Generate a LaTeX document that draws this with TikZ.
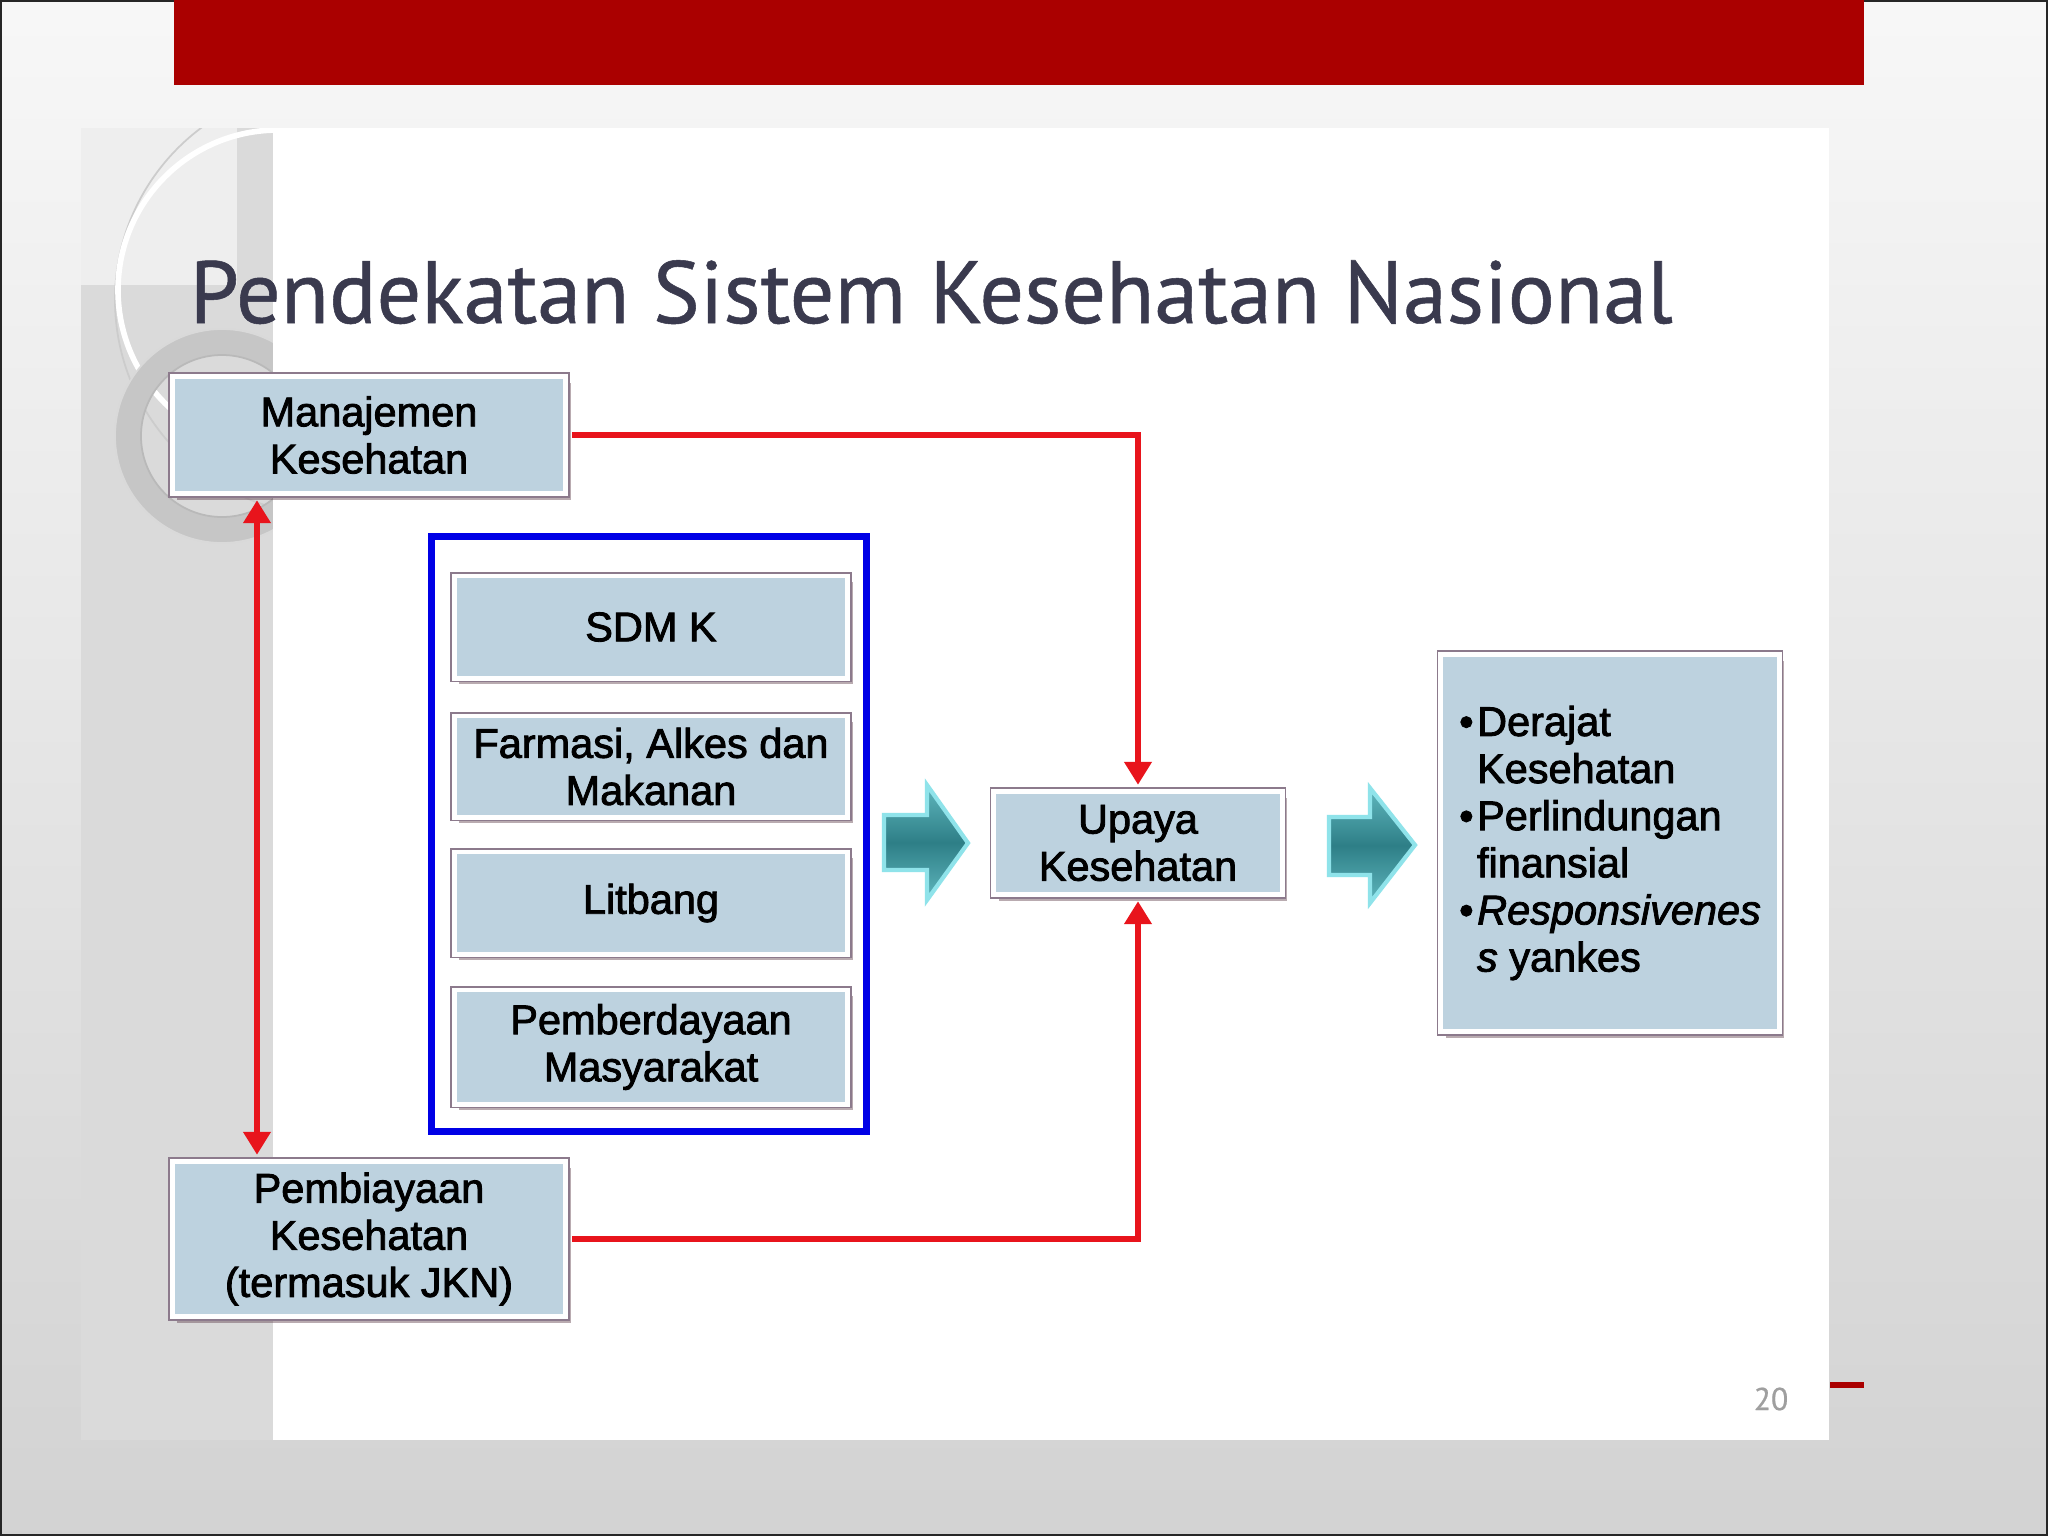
\documentclass[tikz,border=0pt]{standalone}
\usepackage{fontspec}
\usepackage[dvipsnames]{xcolor}
\usepackage{tikz}
\usetikzlibrary{positioning, arrows.meta, shadows}
\newfontfamily\boxfont{Liberation Sans}[FakeBold=2]
\newfontfamily\titlefont{PT Sans}[FakeBold=0.6]
\definecolor{slidered}{HTML}{AA0000}
\definecolor{boxblue}{HTML}{BDD2DF}
\definecolor{boxedge}{HTML}{8C7A8C}
\definecolor{linkred}{HTML}{E8141C}
\definecolor{frameblue}{HTML}{0000E6}
\definecolor{tealdark}{HTML}{2E7F87}
\definecolor{teallight}{HTML}{5FB6BD}
\definecolor{tealedge}{HTML}{8FE3EA}
\definecolor{titlegray}{HTML}{3A3A4E}
\definecolor{stripgray}{HTML}{DADADA}

\begin{document}
\begin{tikzpicture}[x=0.01cm, y=0.01cm,
      box/.style={rectangle, fill=boxblue, draw=white, line width=1.4pt,
        drop shadow={shadow xshift=1.4pt, shadow yshift=-1.8pt, opacity=0.45, fill=black!70!magenta},
        preaction={draw=boxedge, line width=2.4pt},
        font=\boxfont\fontsize{11.8}{13.4}\selectfont, align=center, inner sep=0pt,
        minimum width=3.93cm},
      sysframe/.style={rectangle, draw=frameblue, line width=2pt, inner sep=0pt},
      blockarr/.style={draw=tealedge, line width=1.2pt, top color=teallight,
        bottom color=teallight, middle color=tealdark},
      link/.style={draw=linkred, line width=1.85pt},
      tip/.style={-{Triangle[width=7.5pt, length=6.5pt]}}
    ]
    \useasboundingbox (0,0) rectangle (2048,-1536);
    \fill[top color=gray!6, bottom color=gray!35] (0,0) rectangle (2048,-1536);
    \draw[black!85, line width=0.8pt] (1,-1) rectangle (2047,-1535);
    \fill[slidered] (174,0) rectangle (1864,-85);
    \fill[stripgray] (81,-128) rectangle (273,-1440);
    \fill[gray!13] (81,-128) rectangle (237,-285);
    \begin{scope}
      \clip (81,-128) rectangle (273,-1440);
      \draw[gray!40, line width=0.5pt] (330,-300) circle (215);
      \draw[white, line width=1.6pt] (278,-290) circle (160);
      \draw[gray!45, line width=7.4pt] (222,-436) circle (94);
      \draw[gray!55, line width=0.5pt] (222,-436) circle (81);
      \draw[gray!30, line width=0.5pt] (222,-436) circle (107);
    \end{scope}
    \fill[white] (273,-128) rectangle (1829,-1440);
    \fill[slidered] (1830,-1382) rectangle (1864,-1388);
    \node[text=gray!75, font=\titlefont\fontsize{9}{10}\selectfont] (pgnum) at (1771,-1399) {20};
    \node[anchor=base west, inner sep=0pt, text=titlegray,
      font=\titlefont\fontsize{25.1}{30}\selectfont] (title) at (189,-323)
      {Pendekatan Sistem Kesehatan Nasional};
    \node[sysframe, minimum width=4.34cm, minimum height=5.95cm] (sys) at (649,-834) {};
    \node[box, minimum height=1.17cm] (mk) at (369,-435) {Manajemen\\Kesehatan};
    \node[box, minimum height=1.55cm] (pb) at (369,-1239) {Pembiayaan\\Kesehatan\\(termasuk JKN)};
    \node[box, minimum height=1.02cm] (sdm) at (651,-627) {SDM K};
    \node[box, minimum height=1.01cm] (farm) [below=0.33cm of sdm] {Farmasi, Alkes dan\\Makanan};
    \node[box, minimum height=1.02cm] (lit) [below=0.30cm of farm] {Litbang};
    \node[box, minimum height=1.14cm] (pm) [below=0.31cm of lit] {Pemberdayaan\\Masyarakat};
    \node[box, minimum width=2.88cm, minimum height=1.03cm] (uk) at (1138,-843) {Upaya\\Kesehatan};
    \node[box, minimum width=3.38cm, minimum height=3.77cm, align=left] (out) at (1610,-843)
      {\textbullet\hspace{1pt}Derajat\\\hspace*{5.1pt}Kesehatan\\\textbullet\hspace{1pt}Perlindungan\\\hspace*{5.1pt}finansial\\\textbullet\hspace{1pt}\textit{Responsivenes}\\\hspace*{5.1pt}\textit{s} yankes};
    \draw[blockarr] (884,-815) -- (927,-815) -- (927,-785) -- (968,-843) -- (927,-900) -- (927,-870) -- (884,-870) -- cycle;
    \draw[blockarr] (1329,-817) -- (1370,-817) -- (1370,-788) -- (1415,-845) -- (1370,-903) -- (1370,-875) -- (1329,-875) -- cycle;
    \coordinate (dbl) at (257,0);
    \draw[link, {Triangle[width=7.5pt, length=6.5pt]}-{Triangle[width=7.5pt, length=6.5pt]}, shorten <=1.2pt, shorten >=1.2pt] (mk.south -| dbl) -- (pb.north -| dbl);
    \draw[link, tip, shorten <=1.2pt, shorten >=1.2pt] (mk.east) -| (uk.north);
    \draw[link, tip, shorten <=1.2pt, shorten >=1.2pt] (pb.east) -| (uk.south);
  \end{tikzpicture}
\end{document}
